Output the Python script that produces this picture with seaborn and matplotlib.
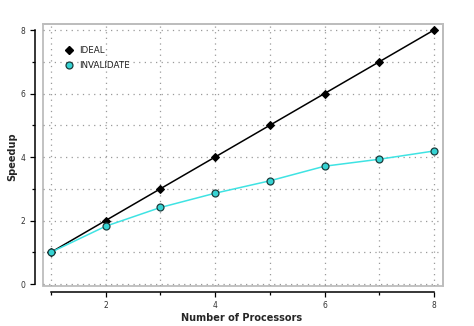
import matplotlib
matplotlib.use("Agg")
import matplotlib.pyplot as plt
from matplotlib.lines import Line2D
from matplotlib.patches import Rectangle
from matplotlib.ticker import MultipleLocator
import seaborn as sns
import pandas as pd

processors = [1, 2, 3, 4, 5, 6, 7, 8]
ideal = [1, 2, 3, 4, 5, 6, 7, 8]
invalidate = [1.0, 1.82, 2.41, 2.86, 3.25, 3.71, 3.93, 4.19]
series_names = ["IDEAL", "INVALIDATE"]
x_label = "Number of Processors"
y_label = "Speedup"

sns.set_theme(style="white")
plt.rcParams["font.family"] = ["DejaVu Sans"]

df_ideal = pd.DataFrame({"p": processors, "s": ideal})
df_inv = pd.DataFrame({"p": processors, "s": invalidate})

fig = plt.figure(figsize=(4.74, 3.26), dpi=100)
ax = fig.add_axes([43 / 474, 40 / 326, 400 / 474, 262 / 326])

sns.lineplot(data=df_ideal, x="p", y="s", ax=ax, color="black", lw=1.1,
             marker="D", markersize=4.2, markeredgecolor="black",
             markerfacecolor="black", legend=False)
sns.lineplot(data=df_inv, x="p", y="s", ax=ax, color="#3fe3e3", lw=1.1,
             marker="o", markersize=5, markeredgecolor="#1c3c3c",
             markeredgewidth=0.9, markerfacecolor="#36d3d3", legend=False)

ax.set_xlim(0.854, 8.165)
ax.set_ylim(-0.063, 8.19)

ax.xaxis.set_major_locator(MultipleLocator(2))
ax.xaxis.set_minor_locator(MultipleLocator(1))
ax.yaxis.set_major_locator(MultipleLocator(2))
ax.yaxis.set_minor_locator(MultipleLocator(1))

# dotted grid on every integer position
grid_kw = dict(color="#9a9a9a", linestyle=(0, (1, 3.5)), linewidth=0.9)
ax.grid(True, which="both", **grid_kw)
ax.set_axisbelow(True)

# light gray frame around the plotting area
for side in ["top", "right"]:
    ax.spines[side].set_color("#bdbdbd")
    ax.spines[side].set_linewidth(1.3)
ax.add_patch(Rectangle((0, 0), 1, 1, transform=ax.transAxes, fill=False,
                       edgecolor="#bdbdbd", lw=1.3, clip_on=False, zorder=0.5))

# black offset axis lines spanning the data range
ax.spines["left"].set_position(("outward", 6))
ax.spines["bottom"].set_position(("outward", 4))
ax.spines["left"].set_bounds(0, 8)
ax.spines["bottom"].set_bounds(1, 8)
for side in ["left", "bottom"]:
    ax.spines[side].set_color("black")
    ax.spines[side].set_linewidth(1.1)

ax.tick_params(which="both", direction="out", colors="black",
               labelcolor="#333333", labelsize=5.5, width=0.9)
ax.tick_params(which="major", length=3.5, pad=3)
ax.tick_params(which="minor", length=2.5)
ax.tick_params(axis="x", which="both", bottom=True)
ax.tick_params(axis="y", which="both", left=True)

ax.set_xlabel(x_label, fontsize=7, fontweight="bold", va="center")
ax.set_ylabel(y_label, fontsize=7, fontweight="bold", va="center")
ax.xaxis.set_label_coords(0.4975, -0.122)
ax.yaxis.set_label_coords(-0.0775, 0.492)

handles = [
    Line2D([], [], linestyle="none", marker="D", markersize=4.2,
           color="black"),
    Line2D([], [], linestyle="none", marker="o", markersize=5,
           markerfacecolor="#36d3d3", markeredgecolor="#1c3c3c",
           markeredgewidth=0.9),
]
leg = ax.legend(handles, series_names, loc="upper left",
                bbox_to_anchor=(0.035, 0.945), frameon=False,
                fontsize=6.3, handletextpad=0.6, labelspacing=0.7,
                handlelength=1.0)
for t in leg.get_texts():
    t.set_color("#222222")

fig.savefig("out.png", dpi=100)
